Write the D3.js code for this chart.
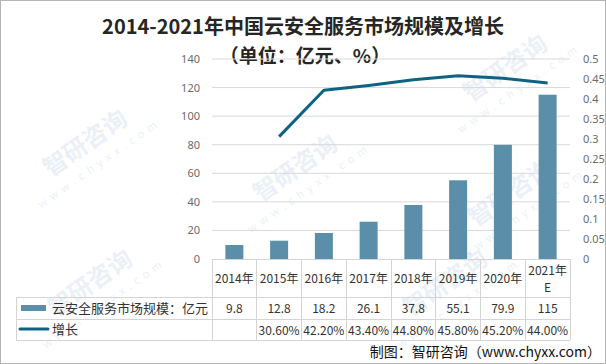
<!DOCTYPE html>
<html><head><meta charset="utf-8">
<script src="https://cdn.jsdelivr.net/npm/d3@7"></script>
<style>
html,body{margin:0;padding:0;background:#fff;}
svg{display:block;font-family:"Noto Sans CJK SC","Noto Sans",sans-serif;}
</style></head>
<body><svg id="c" width="606" height="364"></svg>
<script>
const categories = ["2014年","2015年","2016年","2017年","2018年","2019年","2020年","2021年E"];
const headerLines = [["2014年"],["2015年"],["2016年"],["2017年"],["2018年"],["2019年"],["2020年"],["2021年","E"]];
const marketSize = [9.8,12.8,18.2,26.1,37.8,55.1,79.9,115];
const marketLabels = ["9.8","12.8","18.2","26.1","37.8","55.1","79.9","115"];
const growth = [null,0.306,0.422,0.434,0.448,0.458,0.452,0.44];
const growthLabels = ["","30.60%","42.20%","43.40%","44.80%","45.80%","45.20%","44.00%"];
const leftTicks = [0,20,40,60,80,100,120,140];
const rightTicks = [0,0.05,0.1,0.15,0.2,0.25,0.3,0.35,0.4,0.45,0.5];
const seriesNames = ["云安全服务市场规模：亿元","增长"];

const svg = d3.select("#c");
const W=606,H=364;
const plotL=212, plotR=570, plotT=59, plotB=259;
const barColor="#5b8ea8", lineColor="#0f6282", gridColor="#d9d9d9";

svg.append("rect").attr("x",0.5).attr("y",0.5).attr("width",W-1).attr("height",H-1)
  .attr("fill","#fff").attr("stroke","#b4b4b4");

// watermarks
const wm = [[90,150],[300,175],[510,75],[450,290],[515,200],[95,290]];
wm.forEach(([x,y])=>{
  const g=svg.append("g").attr("transform",`translate(${x},${y}) rotate(-35)`).attr("opacity",0.11);
  g.append("text").attr("x",0).attr("y",0).attr("text-anchor","middle").attr("font-size",24)
    .attr("font-weight","bold").attr("fill","#4a7fb5").text("智研咨询");
  g.append("text").attr("x",0).attr("y",20).attr("text-anchor","middle").attr("font-size",11)
    .attr("letter-spacing",5).attr("fill","#4a7fb5").text("www.chyxx.com");
});

// title
svg.append("text").attr("x",303).attr("y",34).attr("text-anchor","middle")
  .attr("font-size",20).attr("font-weight","bold").attr("fill","#262626")
  .text("2014-2021年中国云安全服务市场规模及增长");
svg.append("text").attr("x",305).attr("y",63).attr("text-anchor","middle")
  .attr("font-size",19).attr("font-weight","bold").attr("fill","#262626")
  .text("（单位：亿元、%）");

const x = d3.scaleBand().domain(categories).range([plotL,plotR]).paddingInner(0).paddingOuter(0);
const yL = d3.scaleLinear().domain([0,140]).range([plotB,plotT]);
const yR = d3.scaleLinear().domain([0,0.5]).range([plotB,plotT]);

// gridlines
svg.append("g").selectAll("line").data(leftTicks.filter(d=>d>0)).join("line")
  .attr("x1",plotL).attr("x2",plotR).attr("y1",d=>yL(d)).attr("y2",d=>yL(d))
  .attr("stroke",gridColor).attr("stroke-width",1);

// axes labels
const axL = svg.append("g").attr("transform",`translate(${plotL-12},0)`)
  .call(d3.axisLeft(yL).tickValues(leftTicks).tickSize(0).tickPadding(0).tickFormat(d3.format("d")));
axL.select(".domain").remove();
axL.selectAll("text").attr("font-size",11).attr("fill","#6b6b6b").attr("font-family","'Noto Sans','Liberation Sans',sans-serif");

const axR = svg.append("g").attr("transform",`translate(${plotR+13},0)`)
  .call(d3.axisRight(yR).tickValues(rightTicks).tickSize(0).tickPadding(0).tickFormat(d=>String(+d.toFixed(2))));
axR.select(".domain").remove();
axR.selectAll("text").attr("font-size",11).attr("fill","#6b6b6b").attr("font-family","'Noto Sans','Liberation Sans',sans-serif");

// bars
const bw=18;
svg.append("g").selectAll("rect").data(marketSize).join("rect")
  .attr("x",(d,i)=>x(categories[i])+x.bandwidth()/2-bw/2)
  .attr("width",bw)
  .attr("y",d=>yL(d)).attr("height",d=>plotB-yL(d))
  .attr("fill",barColor);

// line
const lineData = growth.map((g,i)=>({c:categories[i],g})).filter(d=>d.g!==null);
svg.append("path").datum(lineData)
  .attr("d",d3.line().x(d=>x(d.c)+x.bandwidth()/2).y(d=>yR(d.g)))
  .attr("fill","none").attr("stroke",lineColor).attr("stroke-width",3).attr("stroke-linejoin","round");

// data table
const tblL=16, r0=259, r1=297, r2=319, r3=340;
const tg = svg.append("g").attr("stroke","#d4d4d4").attr("stroke-width",1).attr("shape-rendering","crispEdges");
tg.append("line").attr("x1",plotL).attr("x2",plotR).attr("y1",r0).attr("y2",r0);
[r1,r2,r3].forEach(y=>tg.append("line").attr("x1",tblL).attr("x2",plotR).attr("y1",y).attr("y2",y));
tg.append("line").attr("x1",tblL).attr("x2",tblL).attr("y1",r1).attr("y2",r3);
categories.forEach(c=>tg.append("line").attr("x1",x(c)).attr("x2",x(c)).attr("y1",r0).attr("y2",r3));
tg.append("line").attr("x1",plotR).attr("x2",plotR).attr("y1",r0).attr("y2",r3);

const tt = svg.append("g").attr("font-size",12).attr("fill","#333").attr("text-anchor","middle");
headerLines.forEach((ls,i)=>{
  const cx = x(categories[i])+x.bandwidth()/2;
  if(ls.length===1){
    tt.append("text").attr("x",cx).attr("y",283).text(ls[0]);
  } else {
    tt.append("text").attr("x",cx).attr("y",275).text(ls[0]);
    tt.append("text").attr("x",cx).attr("y",292).text(ls[1]);
  }
});
marketLabels.forEach((v,i)=>{
  tt.append("text").attr("x",x(categories[i])+x.bandwidth()/2).attr("y",313).text(v);
});
growthLabels.forEach((v,i)=>{
  tt.append("text").attr("x",x(categories[i])+x.bandwidth()/2).attr("y",335).text(v);
});

// legend keys in table
svg.append("rect").attr("x",21).attr("y",305).attr("width",25).attr("height",6).attr("fill",barColor);
svg.append("line").attr("x1",20).attr("x2",48).attr("y1",329).attr("y2",329)
  .attr("stroke",lineColor).attr("stroke-width",3).attr("stroke-linecap","round");
svg.append("text").attr("x",52).attr("y",313).attr("font-size",13).attr("fill","#333").text(seriesNames[0]);
svg.append("text").attr("x",52).attr("y",334).attr("font-size",13).attr("fill","#333").text(seriesNames[1]);

// source
svg.append("text").attr("x",601).attr("y",357).attr("text-anchor","end")
  .attr("font-size",14).attr("fill","#111").text("制图：智研咨询（www.chyxx.com）");
</script></body></html>
